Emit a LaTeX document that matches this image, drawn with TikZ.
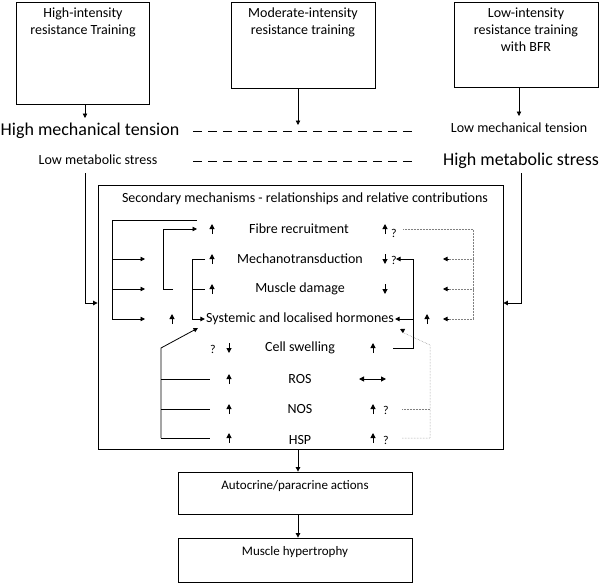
\documentclass[tikz,border=0pt]{standalone}
\usepackage{fontspec}
\setmainfont{Carlito}
\usetikzlibrary{arrows.meta}
\begin{document}
\begin{tikzpicture}[x=1pt,y=-1pt,
  ar/.style={-{Triangle[length=4.5pt,width=4.5pt]},line width=0.8pt},
  sa/.style={-{Triangle[length=5pt,width=5pt]},line width=1pt},
  ln/.style={line width=0.8pt},
  dl/.style={densely dotted,gray,line width=0.5pt},
  box/.style={draw,line width=0.8pt,inner sep=0pt},
  t/.style={font=\fontsize{14}{17}\selectfont,inner sep=1pt},
  tm/.style={font=\fontsize{13}{16}\selectfont,inner sep=1pt},
  tb/.style={font=\fontsize{18}{20}\selectfont,inner sep=1pt},
  ts/.style={font=\fontsize{12}{14}\selectfont,inner sep=1pt}]
\useasboundingbox (0,0) rectangle (600,584);
% top boxes
\node[box,minimum width=133pt,minimum height=102pt] (b1) at (83,53) {};
\node[t,align=center,anchor=north] (b1t) at (83,7) {High-intensity\\resistance Training};
\node[box,minimum width=144pt,minimum height=86pt] (b2) at (303,45) {};
\node[t,align=center,anchor=north] (b2t) at (303,7) {Moderate-intensity\\resistance training};
\node[box,minimum width=144pt,minimum height=85pt] (b3) at (526,44.5) {};
\node[t,align=center,anchor=north] (b3t) at (526,7) {Low-intensity\\resistance training\\with BFR};
\coordinate (a1) at (85,118);
\coordinate (a2) at (298,125);
\coordinate (a3) at (519,116);
\draw[ar] (b1.south -| a1) -- (a1);
\draw[ar] (b2.south -| a2) -- (a2);
\draw[ar] (b3.south -| a3) -- (a3);
\node[tb] (hmt) at (90,131) {High mechanical tension};
\node[t] (lms) at (98,160) {Low metabolic stress};
\node[t] (lmt) at (519,128) {Low mechanical tension};
\node[tb] (hms) at (521,161) {High metabolic stress};
\draw[ln,dash pattern=on 9pt off 6pt] (193,131) -- (417,131);
\draw[ln,dash pattern=on 9pt off 6pt] (193,161) -- (417,161);
% big box
\node[box,minimum width=405pt,minimum height=264pt] (big) at (300.5,317) {};
\node[t] (title) at (305,199) {Secondary mechanisms - relationships and relative contributions};
\draw[ar] (85,173) -- (85,303) -- (big.west |- 0,303);
\draw[ar] (521,173) -- (521,303) -- (big.east |- 0,303);
% rows
\node[t] (fr) at (299,229) {Fibre recruitment};
\node[t] (mt) at (300,259) {Mechanotransduction};
\node[t] (md) at (300,289) {Muscle damage};
\node[t] (sh) at (300,319) {Systemic and localised hormones};
\node[t] (cs) at (300,348) {Cell swelling};
\node[t] (ros) at (300,379) {ROS};
\node[t] (nos) at (300,409) {NOS};
\node[t] (hsp) at (300,440) {HSP};
% small up/down arrows
\foreach \x/\y in {212/229,212/259,212/289,172/319,229/379,229/409,229/438,385/229,373/348,373/409,373/438,427/319}
  \draw[sa] (\x,\y+5) -- (\x,\y-5);
\foreach \x/\y in {385/259,385/289,229/348}
  \draw[sa] (\x,\y-5) -- (\x,\y+5);
\draw[{Triangle[length=5pt,width=5pt]}-{Triangle[length=5pt,width=5pt]},line width=1pt] (359,379) -- (386,379);
\node[ts] (q1) at (394,233) {?};
\node[ts] (q2) at (394,260) {?};
\node[ts] (q3) at (213,349) {?};
\node[ts] (q4) at (386,410) {?};
\node[ts] (q5) at (386,440) {?};
% left brackets
\draw[ln] (197,220) -- (112,220) -- (112,319);
\foreach \y in {259,289,319} \draw[ar] (112,\y) -- (145,\y);
\draw[ar] (173,289) -- (163,289) -- (163,229) -- (197,229);
\draw[ln] (205,259) -- (192,259) -- (192,319);
\draw[ln] (192,289) -- (205,289);
\draw[ar] (192,319) -- (sh.west);
\draw[ar] (161,438) -- (161,348) -- (198,328);
\foreach \y in {379,409,438} \draw[ln] (161,\y) -- (210,\y);
% right solid bracket
\draw[ar] (393,348) -- (413,348) -- (413,259) -- (396,259);
\draw[ar] (413,319) -- (sh.east);
% right dotted
\draw[dl] (403,229) -- (473,229) -- (473,319);
\foreach \y in {259,289,319} {\draw[dl] (473,\y) -- (448,\y); \draw[ar] (449,\y) -- (443,\y);}
\draw[dl] (402,409) -- (430,409);
\draw[dl] (402,438) -- (430,438) -- (430,345) -- (404,333);
\draw[ar] (404,331) -- (400,329);
% bottom boxes
\node[box,minimum width=234pt,minimum height=42pt] (ac) at (295,493) {};
\node[tm] (act) at (295,486) {Autocrine/paracrine actions};
\node[box,minimum width=234pt,minimum height=44pt] (mh) at (295,560) {};
\node[tm] (mht) at (295,552) {Muscle hypertrophy};
\draw[ar] (big.south -| 298,0) -- (ac.north -| 298,0);
\draw[ar] (ac.south -| 298,0) -- (mh.north -| 298,0);
\end{tikzpicture}
\end{document}
